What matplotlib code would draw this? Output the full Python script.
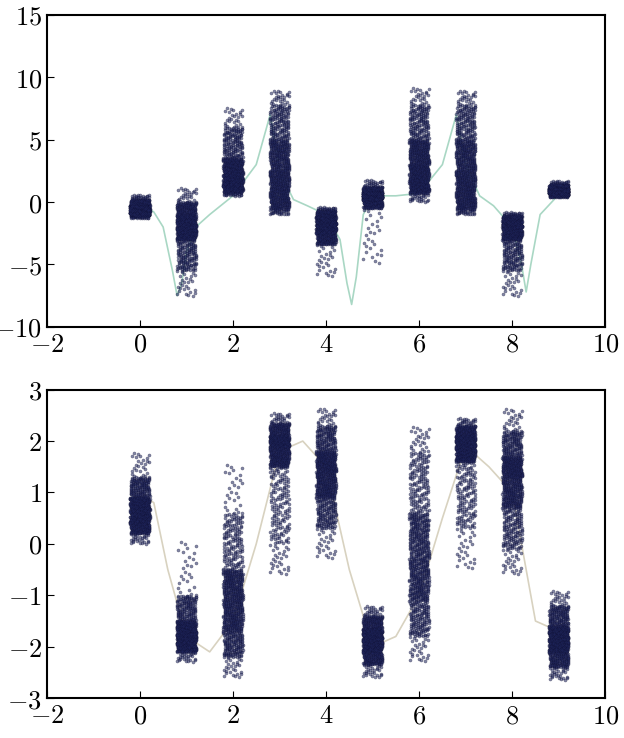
import numpy as np
import matplotlib
matplotlib.use("Agg")
import matplotlib.pyplot as plt

plt.rcParams["mathtext.fontset"] = "cm"
plt.rcParams["font.family"] = "DejaVu Serif"

categories = list(range(10))
probs = [0.0, 0.03, 0.2, 0.5, 0.8, 0.97, 1.0]
# quantiles of y per category
top_q = [
    [-1.3, -1.1, -0.9, -0.6, -0.3, 0.2, 0.6],
    [-7.6, -5.5, -3.0, -2.0, -1.0, 0.0, 1.2],
    [0.5, 0.8, 1.3, 2.2, 3.5, 6.0, 7.6],
    [-1.0, -0.6, 0.5, 2.5, 5.0, 7.8, 9.0],
    [-6.0, -3.4, -2.5, -1.8, -1.2, -0.7, -0.4],
    [-5.0, -0.5, 0.2, 0.5, 0.8, 1.2, 1.8],
    [0.0, 0.7, 1.5, 3.0, 5.0, 7.8, 9.2],
    [-1.0, -0.6, 0.5, 2.5, 5.0, 7.8, 9.0],
    [-7.6, -5.5, -3.0, -2.0, -1.5, -1.1, -0.8],
    [0.4, 0.5, 0.7, 0.9, 1.1, 1.4, 1.7],
]
bot_q = [
    [0.0, 0.2, 0.4, 0.65, 0.9, 1.3, 1.8],
    [-2.3, -2.1, -1.95, -1.75, -1.5, -1.0, 0.1],
    [-2.6, -2.2, -1.7, -1.1, -0.5, 0.6, 1.6],
    [-0.6, 0.0, 1.5, 1.9, 2.1, 2.35, 2.55],
    [-0.3, 0.3, 0.9, 1.4, 1.8, 2.3, 2.65],
    [-2.6, -2.35, -2.1, -1.85, -1.65, -1.4, -1.2],
    [-2.3, -1.8, -1.1, -0.3, 0.6, 1.8, 2.3],
    [-0.5, 0.3, 1.6, 1.9, 2.1, 2.3, 2.45],
    [-0.6, -0.1, 0.7, 1.3, 1.7, 2.2, 2.65],
    [-2.65, -2.4, -2.1, -1.85, -1.6, -1.2, -0.9],
]
top_line_x = [0, 0.3, 0.5, 0.7, 0.8, 0.9, 1, 1.2, 1.5, 2, 2.5, 2.8, 3, 3.3, 3.6, 4, 4.3, 4.45, 4.55, 4.65, 4.8, 5, 5.5, 6, 6.5, 6.8, 7, 7.3, 7.6, 8, 8.2, 8.3, 8.4, 8.6, 9, 9.2]
top_line_y = [0, -0.8, -2, -5.5, -7.5, -6.5, -4, -2, -1, 0.5, 3, 7, 2.5, 0.2, -0.3, -1, -3, -6.5, -8.2, -6, -1, 0.5, 0.5, 0.7, 3, 7, 3, 0.5, -0.3, -2, -5, -7.2, -5, -1, 0.6, 0.7]
bot_line_x = [0, 0.3, 0.6, 1, 1.5, 2, 2.5, 3, 3.5, 4, 4.5, 5, 5.5, 6, 6.5, 7, 7.5, 8, 8.5, 9]
bot_line_y = [1.0, 0.8, -0.5, -1.8, -2.1, -1.5, 0, 1.8, 2.0, 1.5, -0.5, -2.0, -1.8, -1.0, 0.5, 1.9, 1.5, 1.0, -1.5, -1.7]

N = 900
def vdc(n, b=2):
    out = np.zeros(n)
    for i in range(n):
        k, f, r = i + 1, 1.0, 0.0
        while k:
            f /= b
            r += f * (k % b)
            k //= b
        out[i] = r
    return out
p_seq = vdc(N, 2)
j_seq = (np.arange(N) * 0.6180339887) % 1.0

fig = plt.figure(figsize=(6.24, 7.38), dpi=100)
ax1 = fig.add_axes([0.075, 0.557, 0.895, 0.423])
ax2 = fig.add_axes([0.075, 0.054, 0.895, 0.418])

def draw(ax, qs, lx, ly, lc, ylim, yt):
    ax.plot(lx, ly, color=lc, lw=1.2, zorder=1)
    for c, q in zip(categories, qs):
        y = np.interp(p_seq, probs, q)
        x = c + (j_seq - 0.5) * 0.42
        ax.scatter(x, y, s=5, c="#20265e", alpha=0.55, edgecolors="#101030", linewidths=0.3, zorder=2)
    ax.set_xlim(-2, 10)
    ax.set_ylim(*ylim)
    ax.set_yticks(yt)
    ax.set_xticks([-2, 0, 2, 4, 6, 8, 10])
    ax.set_xticklabels([f"${v}$" for v in [-2, 0, 2, 4, 6, 8, 10]])
    ax.set_yticklabels([f"${v}$" for v in yt])
    ax.tick_params(labelsize=19, direction="in", length=5)
    for s in ax.spines.values():
        s.set_linewidth(1.5)

draw(ax1, top_q, top_line_x, top_line_y, "#a9d7c4", (-10, 15), [-10, -5, 0, 5, 10, 15])
draw(ax2, bot_q, bot_line_x, bot_line_y, "#d8d2c0", (-3, 3), [-3, -2, -1, 0, 1, 2, 3])
fig.savefig("out.png", dpi=100)
